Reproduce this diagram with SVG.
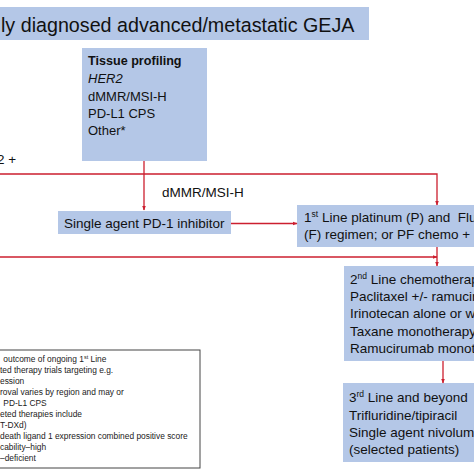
<svg xmlns="http://www.w3.org/2000/svg" width="474" height="474" viewBox="0 0 474 474">
<defs>
<style>
.box{fill:#b4c7e7;stroke:none}
.t{font-family:"Liberation Sans",Arial,sans-serif;font-size:13.5px;fill:#111;white-space:pre}
.lg{font-family:"Liberation Sans",Arial,sans-serif;font-size:8.4px;fill:#222;white-space:pre}
.c{fill:none;stroke:#cc1f2f;stroke-width:1.3}
</style>
<marker id="ah" viewBox="0 0 10 10" refX="9" refY="5" markerWidth="5" markerHeight="5" orient="auto" markerUnits="userSpaceOnUse">
<path d="M0,1 L10,5 L0,9 z" fill="#cc1f2f"/>
</marker>
</defs>
<rect width="474" height="474" fill="#fff"/>
<g id="title">
<rect class="box" x="0" y="7" width="369" height="33"/>
<text class="t" x="1" y="32" style="font-size:19.7px">ly diagnosed advanced/metastatic GEJA</text>
</g>
<g id="tissue">
<rect class="box" x="82" y="48" width="125" height="113"/>
<text class="t" x="88" y="65" style="font-size:12.6px;font-weight:bold">Tissue profiling</text>
<text class="t" x="88" y="82.5" style="font-size:13px;font-style:italic">HER2</text>
<text class="t" x="88" y="100.5" style="font-size:13px">dMMR/MSI-H</text>
<text class="t" x="88" y="117.5" style="font-size:13px">PD-L1 CPS</text>
<text class="t" x="88" y="135" style="font-size:13px">Other*</text>
</g>
<g id="her2label">
<text class="t" x="-3" y="164">2 +</text>
</g>
<g id="dmmrlabel">
<text class="t" x="162" y="197">dMMR/MSI-H</text>
</g>
<g id="pd1">
<rect class="box" x="58" y="211" width="173" height="23"/>
<text class="t" x="64" y="228">Single agent PD-1 inhibitor</text>
</g>
<g id="first">
<rect class="box" x="297" y="205" width="180" height="42"/>
<text class="t" x="304" y="222">1<tspan style="font-size:8.5px" dy="-5">st</tspan><tspan dy="5"> Line platinum (P) and  Flu</tspan></text>
<text class="t" x="304" y="239">(F) regimen; or PF chemo + n</text>
</g>
<g id="second">
<rect class="box" x="344" y="266" width="133" height="95"/>
<text class="t" x="350" y="284">2<tspan style="font-size:8.5px" dy="-5">nd</tspan><tspan dy="5"> Line chemotherap</tspan></text>
<text class="t" x="350" y="301">Paclitaxel +/- ramucir</text>
<text class="t" x="350" y="318">Irinotecan alone or w</text>
<text class="t" x="350" y="336">Taxane monotherapy</text>
<text class="t" x="350" y="353">Ramucirumab monot</text>
</g>
<g id="third">
<rect class="box" x="343" y="383" width="134" height="79"/>
<text class="t" x="349" y="402">3<tspan style="font-size:8.5px" dy="-5">rd</tspan><tspan dy="5"> Line and beyond</tspan></text>
<text class="t" x="349" y="420">Trifluridine/tipiracil</text>
<text class="t" x="349" y="437">Single agent nivolum</text>
<text class="t" x="349" y="454">(selected patients)</text>
</g>
<g id="legend">
<rect x="-2" y="350" width="202" height="118" fill="#fff" stroke="#444" stroke-width="1"/>
<text class="lg" x="1" y="362"> outcome of ongoing 1<tspan style="font-size:5.5px" dy="-3">st</tspan><tspan dy="3"> Line</tspan></text>
<text class="lg" x="0" y="373">ted therapy trials targeting e.g.</text>
<text class="lg" x="0" y="384">ession</text>
<text class="lg" x="0" y="395">roval varies by region and may or</text>
<text class="lg" x="1" y="406"> PD-L1 CPS</text>
<text class="lg" x="0" y="417">eted therapies include</text>
<text class="lg" x="0" y="428">T-DXd)</text>
<text class="lg" x="0" y="439">death ligand 1 expression combined positive score</text>
<text class="lg" x="0" y="450">cability–high</text>
<text class="lg" x="0" y="461">–deficient</text>
</g>
<g id="connectors">
<path class="c" d="M0,174 H437 V205" marker-end="url(#ah)"/>
<path class="c" d="M144,161 V210" marker-end="url(#ah)"/>
<path class="c" d="M231,223.5 H297" marker-end="url(#ah)"/>
<path class="c" d="M0,257 H437" marker-end="url(#ah)"/>
<path class="c" d="M437,247 V266" marker-end="url(#ah)"/>
<path class="c" d="M443,361 V383" marker-end="url(#ah)"/>
</g>
</svg>
